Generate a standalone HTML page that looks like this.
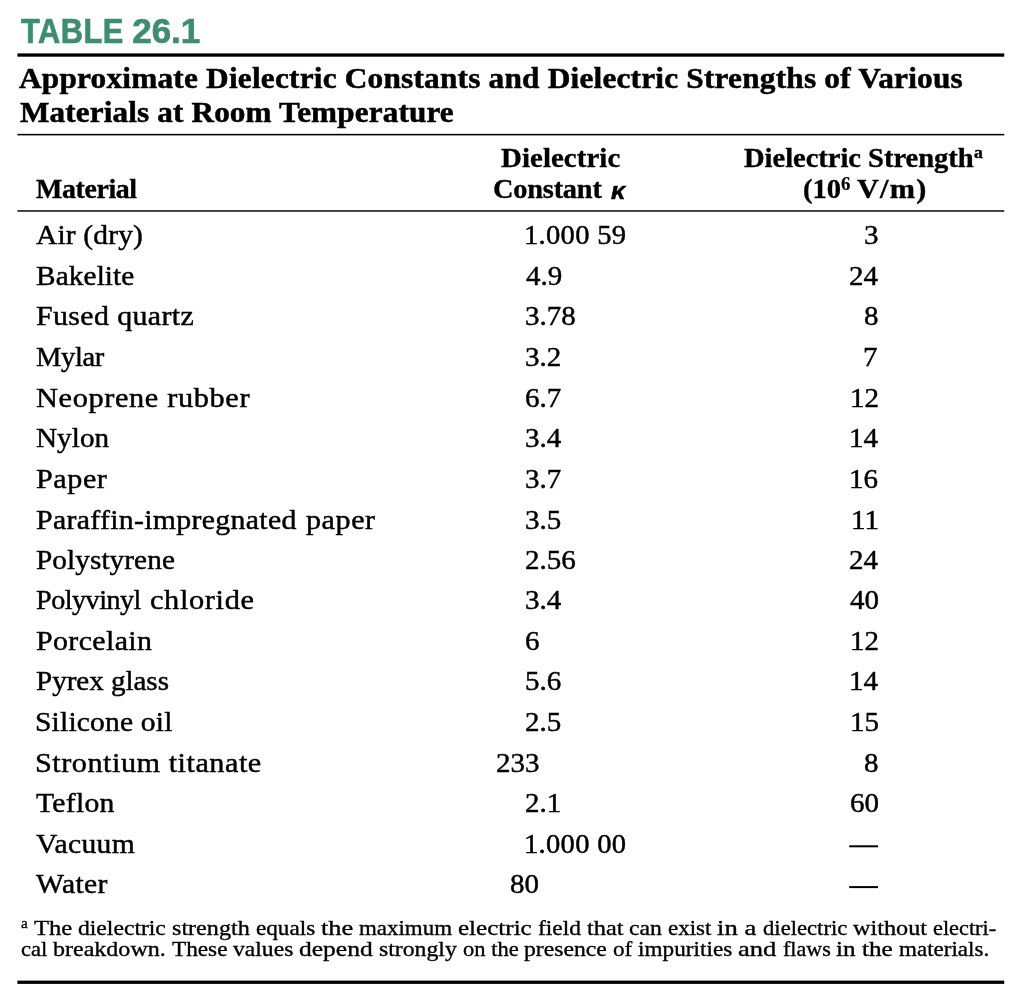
<!DOCTYPE html>
<html><head><meta charset="utf-8"><title>Table 26.1</title>
<style>
html,body{margin:0;padding:0;background:#fff;}
body{width:1024px;height:994px;position:relative;overflow:hidden;font-family:"Liberation Serif",serif;color:#000;}
.t{position:absolute;white-space:pre;line-height:1;margin:0;padding:0;transform-origin:0 0;font-family:"Liberation Serif",serif;}
.b{font-weight:bold;}
.ln{position:absolute;left:17.4px;width:986.9px;background:#000;}
</style></head><body><div id="wrap" style="position:absolute;left:0;top:0;width:1024px;height:994px;will-change:transform;">
<div class="t b" style="left:21.01px;top:13.40px;font-size:35px;transform:scaleX(0.8800);letter-spacing:0.567px;font-family:'Liberation Sans',sans-serif;color:#3f8d6f;-webkit-text-stroke:0.7px #3f8d6f;">TABLE</div>
<div class="t b" style="left:132.35px;top:13.40px;font-size:35px;transform:scaleX(1.0000);letter-spacing:-0.118px;font-family:'Liberation Sans',sans-serif;color:#3f8d6f;-webkit-text-stroke:0.7px #3f8d6f;">26.1</div>
<div class="t b" style="left:18.86px;top:63.20px;font-size:30px;transform:scaleX(1.0443);letter-spacing:0.185px;-webkit-text-stroke:0.5px #000;">Approximate Dielectric Constants and Dielectric Strengths of Various</div>
<div class="t b" style="left:20.16px;top:97.10px;font-size:30px;transform:scaleX(1.0393);letter-spacing:0.133px;-webkit-text-stroke:0.5px #000;">Materials at Room Temperature</div>
<div class="t b" style="left:36.18px;top:175.40px;font-size:27.6px;transform:scaleX(1.0122);letter-spacing:-0.395px;-webkit-text-stroke:0.35px #000;">Material</div>
<div class="t b" style="left:501.08px;top:144.40px;font-size:27.6px;transform:scaleX(1.0457);letter-spacing:0.070px;-webkit-text-stroke:0.35px #000;">Dielectric</div>
<div class="t b" style="left:493.15px;top:175.40px;font-size:27.6px;transform:scaleX(1.0269);letter-spacing:-0.193px;-webkit-text-stroke:0.35px #000;">Constant</div>
<div class="t b" style="left:610.91px;top:178.80px;font-size:24px;transform:scaleX(1.0449);font-family:'Liberation Sans',sans-serif;font-style:italic;-webkit-text-stroke:0.6px #000;">κ</div>
<div class="t b" style="left:744.48px;top:144.40px;font-size:27.6px;transform:scaleX(1.0363);letter-spacing:-0.045px;-webkit-text-stroke:0.35px #000;">Dielectric Strength</div>
<div class="t b" style="left:974.41px;top:145.00px;font-size:16.5px;transform:scaleX(1.0714);-webkit-text-stroke:0.4px #000;">a</div>
<div class="t b" style="left:802.54px;top:175.40px;font-size:27.6px;transform:scaleX(1.0379);letter-spacing:-0.036px;-webkit-text-stroke:0.35px #000;">(10</div>
<div class="t b" style="left:841.00px;top:173.90px;font-size:19px;transform:scaleX(0.9891);-webkit-text-stroke:0.2px #000;">6</div>
<div class="t b" style="left:856.99px;top:175.40px;font-size:27.6px;transform:scaleX(1.0987);letter-spacing:1.109px;-webkit-text-stroke:0.35px #000;">V/m)</div>
<div class="t" style="left:36.04px;top:220.95px;font-size:28px;transform:scaleX(1.0527);letter-spacing:0.153px;-webkit-text-stroke:0.45px #000;">Air (dry)</div>
<div class="t" style="left:524.39px;top:220.95px;font-size:28px;transform:scaleX(1.0210);letter-spacing:0.272px;-webkit-text-stroke:0.45px #000;">1.000 59</div>
<div class="t" style="left:864.30px;top:220.95px;font-size:28px;transform:scaleX(1.0360);-webkit-text-stroke:0.45px #000;">3</div>
<div class="t" style="left:36.04px;top:261.54px;font-size:28px;transform:scaleX(1.0472);letter-spacing:0.092px;-webkit-text-stroke:0.45px #000;">Bakelite</div>
<div class="t" style="left:525.73px;top:261.54px;font-size:28px;transform:scaleX(1.0360);-webkit-text-stroke:0.45px #000;">4.9</div>
<div class="t" style="left:848.76px;top:261.54px;font-size:28px;transform:scaleX(1.0360);-webkit-text-stroke:0.45px #000;">24</div>
<div class="t" style="left:36.04px;top:302.13px;font-size:28px;transform:scaleX(1.0677);letter-spacing:0.348px;-webkit-text-stroke:0.45px #000;">Fused quartz</div>
<div class="t" style="left:524.70px;top:302.13px;font-size:28px;transform:scaleX(1.0360);-webkit-text-stroke:0.45px #000;">3.78</div>
<div class="t" style="left:864.30px;top:302.13px;font-size:28px;transform:scaleX(1.0360);-webkit-text-stroke:0.45px #000;">8</div>
<div class="t" style="left:36.03px;top:342.72px;font-size:28px;transform:scaleX(1.0194);letter-spacing:-0.344px;-webkit-text-stroke:0.45px #000;">Mylar</div>
<div class="t" style="left:524.70px;top:342.72px;font-size:28px;transform:scaleX(1.0360);-webkit-text-stroke:0.45px #000;">3.2</div>
<div class="t" style="left:863.26px;top:342.72px;font-size:28px;transform:scaleX(1.0360);-webkit-text-stroke:0.45px #000;">7</div>
<div class="t" style="left:36.04px;top:383.81px;font-size:28px;transform:scaleX(1.0840);letter-spacing:0.574px;-webkit-text-stroke:0.45px #000;">Neoprene rubber</div>
<div class="t" style="left:524.70px;top:383.81px;font-size:28px;transform:scaleX(1.0360);-webkit-text-stroke:0.45px #000;">6.7</div>
<div class="t" style="left:849.79px;top:383.81px;font-size:28px;transform:scaleX(1.0360);-webkit-text-stroke:0.45px #000;">12</div>
<div class="t" style="left:36.03px;top:424.40px;font-size:28px;transform:scaleX(1.0424);letter-spacing:0.040px;-webkit-text-stroke:0.45px #000;">Nylon</div>
<div class="t" style="left:524.70px;top:424.40px;font-size:28px;transform:scaleX(1.0360);-webkit-text-stroke:0.45px #000;">3.4</div>
<div class="t" style="left:848.76px;top:424.40px;font-size:28px;transform:scaleX(1.0360);-webkit-text-stroke:0.45px #000;">14</div>
<div class="t" style="left:36.04px;top:464.99px;font-size:28px;transform:scaleX(1.0751);letter-spacing:0.547px;-webkit-text-stroke:0.45px #000;">Paper</div>
<div class="t" style="left:524.70px;top:464.99px;font-size:28px;transform:scaleX(1.0360);-webkit-text-stroke:0.45px #000;">3.7</div>
<div class="t" style="left:848.76px;top:464.99px;font-size:28px;transform:scaleX(1.0360);-webkit-text-stroke:0.45px #000;">16</div>
<div class="t" style="left:36.04px;top:505.58px;font-size:28px;transform:scaleX(1.0646);letter-spacing:0.298px;-webkit-text-stroke:0.45px #000;">Paraffin-impregnated</div>
<div class="t" style="left:305.84px;top:505.58px;font-size:28px;transform:scaleX(1.0747);letter-spacing:0.528px;-webkit-text-stroke:0.45px #000;">paper</div>
<div class="t" style="left:524.70px;top:505.58px;font-size:28px;transform:scaleX(1.0360);-webkit-text-stroke:0.45px #000;">3.5</div>
<div class="t" style="left:850.87px;top:505.58px;font-size:28px;transform:scaleX(1.0360);-webkit-text-stroke:0.45px #000;">11</div>
<div class="t" style="left:36.04px;top:545.67px;font-size:28px;transform:scaleX(1.0452);letter-spacing:0.066px;-webkit-text-stroke:0.45px #000;">Polystyrene</div>
<div class="t" style="left:524.70px;top:545.67px;font-size:28px;transform:scaleX(1.0360);-webkit-text-stroke:0.45px #000;">2.56</div>
<div class="t" style="left:848.76px;top:545.67px;font-size:28px;transform:scaleX(1.0360);-webkit-text-stroke:0.45px #000;">24</div>
<div class="t" style="left:36.03px;top:586.26px;font-size:28px;transform:scaleX(1.0035);letter-spacing:-0.481px;-webkit-text-stroke:0.45px #000;">Polyvinyl</div>
<div class="t" style="left:150.16px;top:586.26px;font-size:28px;transform:scaleX(1.0859);letter-spacing:0.572px;-webkit-text-stroke:0.45px #000;">chloride</div>
<div class="t" style="left:524.70px;top:586.26px;font-size:28px;transform:scaleX(1.0360);-webkit-text-stroke:0.45px #000;">3.4</div>
<div class="t" style="left:849.79px;top:586.26px;font-size:28px;transform:scaleX(1.0360);-webkit-text-stroke:0.45px #000;">40</div>
<div class="t" style="left:36.04px;top:626.85px;font-size:28px;transform:scaleX(1.0677);letter-spacing:0.354px;-webkit-text-stroke:0.45px #000;">Porcelain</div>
<div class="t" style="left:524.70px;top:626.85px;font-size:28px;transform:scaleX(1.0360);-webkit-text-stroke:0.45px #000;">6</div>
<div class="t" style="left:849.79px;top:626.85px;font-size:28px;transform:scaleX(1.0360);-webkit-text-stroke:0.45px #000;">12</div>
<div class="t" style="left:36.03px;top:667.44px;font-size:28px;transform:scaleX(1.0381);letter-spacing:-0.024px;-webkit-text-stroke:0.45px #000;">Pyrex glass</div>
<div class="t" style="left:524.70px;top:667.44px;font-size:28px;transform:scaleX(1.0360);-webkit-text-stroke:0.45px #000;">5.6</div>
<div class="t" style="left:848.76px;top:667.44px;font-size:28px;transform:scaleX(1.0360);-webkit-text-stroke:0.45px #000;">14</div>
<div class="t" style="left:34.98px;top:707.73px;font-size:28px;transform:scaleX(1.0551);letter-spacing:0.169px;-webkit-text-stroke:0.45px #000;">Silicone oil</div>
<div class="t" style="left:524.70px;top:707.73px;font-size:28px;transform:scaleX(1.0360);-webkit-text-stroke:0.45px #000;">2.5</div>
<div class="t" style="left:849.79px;top:707.73px;font-size:28px;transform:scaleX(1.0360);-webkit-text-stroke:0.45px #000;">15</div>
<div class="t" style="left:34.96px;top:748.62px;font-size:28px;transform:scaleX(1.0810);letter-spacing:0.464px;-webkit-text-stroke:0.45px #000;">Strontium titanate</div>
<div class="t" style="left:495.89px;top:748.62px;font-size:28px;transform:scaleX(1.0360);-webkit-text-stroke:0.45px #000;">233</div>
<div class="t" style="left:864.30px;top:748.62px;font-size:28px;transform:scaleX(1.0360);-webkit-text-stroke:0.45px #000;">8</div>
<div class="t" style="left:36.04px;top:789.21px;font-size:28px;transform:scaleX(1.0586);letter-spacing:0.262px;-webkit-text-stroke:0.45px #000;">Teflon</div>
<div class="t" style="left:524.70px;top:789.21px;font-size:28px;transform:scaleX(1.0360);-webkit-text-stroke:0.45px #000;">2.1</div>
<div class="t" style="left:849.79px;top:789.21px;font-size:28px;transform:scaleX(1.0360);-webkit-text-stroke:0.45px #000;">60</div>
<div class="t" style="left:36.04px;top:829.60px;font-size:28px;transform:scaleX(1.0581);letter-spacing:0.322px;-webkit-text-stroke:0.45px #000;">Vacuum</div>
<div class="t" style="left:524.39px;top:829.60px;font-size:28px;transform:scaleX(1.0210);letter-spacing:0.272px;-webkit-text-stroke:0.45px #000;">1.000 00</div>
<div class="t" style="left:36.04px;top:870.39px;font-size:28px;transform:scaleX(1.0587);letter-spacing:0.302px;-webkit-text-stroke:0.45px #000;">Water</div>
<div class="t" style="left:510.39px;top:870.39px;font-size:28px;transform:scaleX(1.0360);-webkit-text-stroke:0.45px #000;">80</div>
<div class="t" style="left:20.75px;top:915.80px;font-size:15px;transform:scaleX(1.0137);-webkit-text-stroke:0.3px #000;">a</div>
<div class="t" style="left:33.70px;top:917.60px;font-size:21.7px;transform:scaleX(1.1357);-webkit-text-stroke:0.35px #000;">The </div>
<div class="t" style="left:78.14px;top:917.60px;font-size:21.7px;transform:scaleX(1.0889);-webkit-text-stroke:0.35px #000;">dielectric </div>
<div class="t" style="left:171.89px;top:917.60px;font-size:21.7px;transform:scaleX(1.1123);-webkit-text-stroke:0.35px #000;">strength </div>
<div class="t" style="left:255.64px;top:917.60px;font-size:21.7px;transform:scaleX(1.0686);-webkit-text-stroke:0.35px #000;">equals </div>
<div class="t" style="left:320.66px;top:917.60px;font-size:21.7px;transform:scaleX(1.2141);-webkit-text-stroke:0.35px #000;">the </div>
<div class="t" style="left:359.39px;top:917.60px;font-size:21.7px;transform:scaleX(1.0576);-webkit-text-stroke:0.35px #000;">maximum </div>
<div class="t" style="left:458.15px;top:917.60px;font-size:21.7px;transform:scaleX(1.1557);-webkit-text-stroke:0.35px #000;">electric </div>
<div class="t" style="left:538.14px;top:917.60px;font-size:21.7px;transform:scaleX(1.0794);-webkit-text-stroke:0.35px #000;">field </div>
<div class="t" style="left:586.90px;top:917.60px;font-size:21.7px;transform:scaleX(1.1201);-webkit-text-stroke:0.35px #000;">that </div>
<div class="t" style="left:629.39px;top:917.60px;font-size:21.7px;transform:scaleX(1.0910);-webkit-text-stroke:0.35px #000;">can </div>
<div class="t" style="left:668.14px;top:917.60px;font-size:21.7px;transform:scaleX(1.0575);-webkit-text-stroke:0.35px #000;">exist </div>
<div class="t" style="left:717.22px;top:917.60px;font-size:21.7px;transform:scaleX(1.2306);-webkit-text-stroke:0.35px #000;">in a </div>
<div class="t" style="left:763.13px;top:917.60px;font-size:21.7px;transform:scaleX(1.0454);-webkit-text-stroke:0.35px #000;">dielectric </div>
<div class="t" style="left:853.15px;top:917.60px;font-size:21.7px;transform:scaleX(1.1159);-webkit-text-stroke:0.35px #000;">without </div>
<div class="t" style="left:933.13px;top:917.60px;font-size:21.7px;transform:scaleX(1.0280);-webkit-text-stroke:0.35px #000;">electri-</div>
<div class="t" style="left:21.08px;top:939.20px;font-size:21.7px;transform:scaleX(1.0440);-webkit-text-stroke:0.35px #000;">cal </div>
<div class="t" style="left:53.14px;top:939.20px;font-size:21.7px;transform:scaleX(1.1078);-webkit-text-stroke:0.35px #000;">breakdown. </div>
<div class="t" style="left:171.89px;top:939.20px;font-size:21.7px;transform:scaleX(1.0707);-webkit-text-stroke:0.35px #000;">These </div>
<div class="t" style="left:233.14px;top:939.20px;font-size:21.7px;transform:scaleX(1.0892);-webkit-text-stroke:0.35px #000;">values </div>
<div class="t" style="left:299.41px;top:939.20px;font-size:21.7px;transform:scaleX(1.1756);-webkit-text-stroke:0.35px #000;">depend </div>
<div class="t" style="left:379.39px;top:939.20px;font-size:21.7px;transform:scaleX(1.0946);-webkit-text-stroke:0.35px #000;">strongly </div>
<div class="t" style="left:463.13px;top:939.20px;font-size:21.7px;transform:scaleX(1.0377);-webkit-text-stroke:0.35px #000;">on the </div>
<div class="t" style="left:524.39px;top:939.20px;font-size:21.7px;transform:scaleX(1.0920);-webkit-text-stroke:0.35px #000;">presence </div>
<div class="t" style="left:613.14px;top:939.20px;font-size:21.7px;transform:scaleX(1.0697);-webkit-text-stroke:0.35px #000;">of impurities </div>
<div class="t" style="left:738.16px;top:939.20px;font-size:21.7px;transform:scaleX(1.2250);-webkit-text-stroke:0.35px #000;">and </div>
<div class="t" style="left:783.13px;top:939.20px;font-size:21.7px;transform:scaleX(1.0163);-webkit-text-stroke:0.35px #000;">flaws </div>
<div class="t" style="left:836.40px;top:939.20px;font-size:21.7px;transform:scaleX(1.1622);-webkit-text-stroke:0.35px #000;">in the </div>
<div class="t" style="left:899.39px;top:939.20px;font-size:21.7px;transform:scaleX(1.0616);-webkit-text-stroke:0.35px #000;">materials.</div>
<svg width="1024" height="994" viewBox="0 0 1024 994" style="position:absolute;left:0;top:0;">
<rect x="17.40" y="53.40" width="986.85" height="3.30" fill="#000"/>
<rect x="17.40" y="133.85" width="986.85" height="1.55" fill="#000"/>
<rect x="17.40" y="210.25" width="986.85" height="1.45" fill="#000"/>
<rect x="17.40" y="980.60" width="986.85" height="3.30" fill="#000"/>
<rect x="849.20" y="845.30" width="28.80" height="2.00" fill="#000"/>
<rect x="849.20" y="886.10" width="28.80" height="2.00" fill="#000"/>
</svg>
</div></body></html>
